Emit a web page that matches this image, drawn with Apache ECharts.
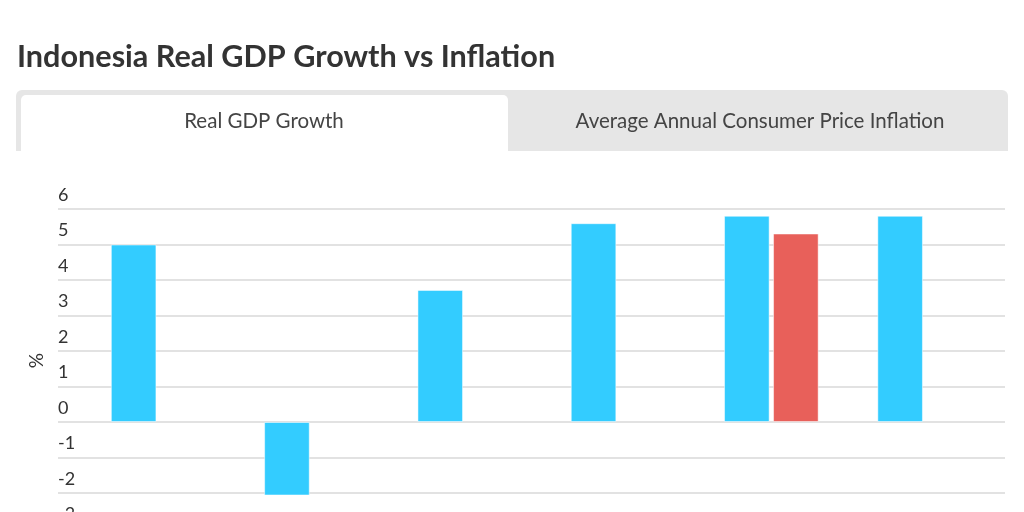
<!DOCTYPE html>
<html>
<head>
<meta charset="utf-8">
<script src="https://cdn.jsdelivr.net/npm/echarts@6/dist/echarts.min.js"></script>
<style>
    html, body { margin: 0; padding: 0; background: #fff; overflow: hidden; }
</style>
</head>
<body>
<div style="width:1024px;height:600px;" id="gdp_chart"></div>
<script>
// data
var years = ['2019', '2020', '2021', '2022', '2023', '2024'];
var gdpGrowth = [5.0, -2.07, 3.72, 5.6, 5.81, 5.81];
var inflation = [null, null, null, null, 5.31, null];
var yTicks = { min: -3, max: 6, step: 1 };
var tabNames = ['Real GDP Growth', 'Average Annual Consumer Price Inflation'];

var chart = echarts.init(document.getElementById('gdp_chart'));
var font = 'Lato, "Noto Sans", sans-serif';

const option = {
    animation: false,
    title: {
        text: 'Indonesia Real GDP Growth vs Inflation',
        left: 17,
        top: 42,
        padding: 0,
        textStyle: { fontFamily: font, fontWeight: 'bold', fontSize: 30.6, color: '#333' }
    },
    graphic: [
        { type: 'rect', shape: { x: 16, y: 90, width: 992, height: 61, r: [6, 6, 0, 0] }, style: { fill: '#e6e6e6' } },
        { type: 'rect', shape: { x: 21, y: 95, width: 487, height: 56, r: [5, 5, 0, 0] }, style: { fill: '#fff' } },
        { type: 'text', x: 264, y: 121, style: { text: tabNames[0], fontFamily: font, fontSize: 20.5, fill: '#444', align: 'center', verticalAlign: 'middle' } },
        { type: 'text', x: 760, y: 121, style: { text: tabNames[1], fontFamily: font, fontSize: 20.5, fill: '#444', align: 'center', verticalAlign: 'middle' } }
    ],
    grid: [
        { left: 58, right: 19, top: 209, bottom: 71.5 },
        { left: 81.5, right: 22.7, top: 209, bottom: 71.5 }
    ],
    xAxis: [
        { type: 'category', gridIndex: 0, data: years, show: false },
        {
            type: 'category', gridIndex: 1, data: years,
            axisLine: { show: false }, axisTick: { show: false },
            axisLabel: { fontFamily: font, fontSize: 18, color: '#333' }
        }
    ],
    yAxis: [
        {
            type: 'value', gridIndex: 0,
            min: yTicks.min, max: yTicks.max, interval: yTicks.step,
            name: '%', nameLocation: 'middle', nameGap: 12,
            nameTextStyle: { fontFamily: font, fontSize: 19, color: '#333', padding: [0, 0, 0, 16] },
            axisLine: { show: false }, axisTick: { show: false },
            axisLabel: {
                inside: true, margin: 0, verticalAlign: 'bottom',
                fontFamily: font, fontSize: 18, color: '#333', padding: [0, 0, 5, 0]
            },
            splitLine: { lineStyle: { color: '#d9d9d9', width: 1.5 } }
        },
        {
            type: 'value', gridIndex: 1,
            min: yTicks.min, max: yTicks.max, interval: yTicks.step,
            show: false, splitLine: { show: false }
        }
    ],
    series: [
        {
            name: 'Real GDP Growth', type: 'bar', xAxisIndex: 1, yAxisIndex: 1,
            data: gdpGrowth, barWidth: 45.6, barGap: '7.5%',
            itemStyle: { color: '#33ccff', borderColor: 'rgba(255,255,255,0.5)', borderWidth: 1 }
        },
        {
            name: 'Inflation', type: 'bar', xAxisIndex: 1, yAxisIndex: 1,
            data: inflation, barWidth: 45.6,
            itemStyle: { color: '#e8605a', borderColor: 'rgba(255,255,255,0.5)', borderWidth: 1 }
        }
    ]
};
chart.setOption(option);
</script>
</body>
</html>
